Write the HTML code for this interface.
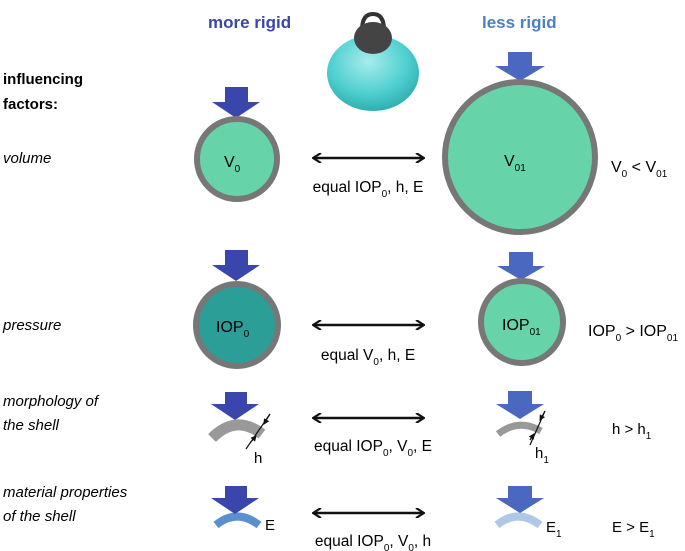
<!DOCTYPE html>
<html><head><meta charset="utf-8"><style>
body{margin:0;background:#fff}
svg{display:block;font-family:"Liberation Sans",Arial,sans-serif}
</style></head><body>
<svg width="685" height="551" viewBox="0 0 685 551" xmlns="http://www.w3.org/2000/svg">
<defs>
<radialGradient id="wg" cx="0.45" cy="0.35" r="0.7">
<stop offset="0" stop-color="#a8ecec"/><stop offset="0.6" stop-color="#4fcfcf"/><stop offset="1" stop-color="#2aa8aa"/>
</radialGradient>
<marker id="ah" markerWidth="10" markerHeight="10" refX="8" refY="5" orient="auto-start-reverse" markerUnits="userSpaceOnUse">
<path d="M1,0 L9,5 L1,10" fill="none" stroke="#111" stroke-width="2.2"/></marker>
<marker id="sa" markerWidth="6" markerHeight="6" refX="5" refY="3" orient="auto" markerUnits="userSpaceOnUse">
<path d="M0,0 L6,3 L0,6z" fill="#111"/></marker>
</defs>
<text x="208" y="28" font-size="17" font-weight="bold" fill="#3b46a8">more rigid</text>
<text x="482" y="28" font-size="17" font-weight="bold" fill="#4a80c8">less rigid</text>
<!-- weight -->
<ellipse cx="373" cy="73" rx="46" ry="38" fill="url(#wg)"/>
<path d="M362,30 Q362,14 373,14 Q384,14 384,30" fill="none" stroke="#333" stroke-width="4"/>
<ellipse cx="373" cy="38" rx="19" ry="16" fill="#444"/>

<g font-size="15" fill="#000">
<text x="3" y="84" font-weight="bold">influencing</text>
<text x="3" y="109" font-weight="bold">factors:</text>
<text x="3" y="163" font-style="italic">volume</text>
<text x="3" y="330" font-style="italic">pressure</text>
<text x="3" y="406" font-style="italic">morphology of</text>
<text x="3" y="430" font-style="italic">the shell</text>
<text x="3" y="497" font-style="italic">material properties</text>
<text x="3" y="521" font-style="italic">of the shell</text>
</g>

<!-- row 1 -->
<path d="M225,87 h23 v15 h12 l-24,16 l-24,-16 h13z" fill="#3b46ad"/>
<circle cx="237" cy="159" r="40" fill="#66d4a8" stroke="#777" stroke-width="6"/>
<text x="224" y="167" font-size="16">V<tspan font-size="10" dy="5">0</tspan></text>
<path d="M508,52 h24 v14 h13 l-25,15 l-25,-15 h13z" fill="#4a68c0"/>
<circle cx="520" cy="157" r="75" fill="#66d4a8" stroke="#777" stroke-width="6"/>
<text x="504" y="166" font-size="16">V<tspan font-size="10" dy="5">01</tspan></text>
<text x="611" y="172" font-size="16">V<tspan font-size="10" dy="5">0</tspan><tspan dy="-5"> &lt; V</tspan><tspan font-size="10" dy="5">01</tspan></text>
<line x1="314" y1="158" x2="423" y2="158" stroke="#111" stroke-width="2.5" marker-start="url(#ah)" marker-end="url(#ah)"/>
<text x="368" y="192" font-size="15.5" text-anchor="middle">equal IOP<tspan font-size="10" dy="5">0</tspan><tspan dy="-5">, h, E</tspan></text>

<!-- row 2 -->
<path d="M225,250 h23 v15 h12 l-24,16 l-24,-16 h13z" fill="#3b46ad"/>
<circle cx="237" cy="325" r="41" fill="#2b9e98" stroke="#777" stroke-width="6"/>
<text x="216" y="332" font-size="16">IOP<tspan font-size="10" dy="5">0</tspan></text>
<path d="M509,252 h24 v14 h12 l-24,14 l-24,-14 h12z" fill="#4a68c0"/>
<circle cx="522" cy="322" r="41" fill="#66d4a8" stroke="#777" stroke-width="6"/>
<text x="502" y="330" font-size="16">IOP<tspan font-size="10" dy="5">01</tspan></text>
<text x="588" y="336" font-size="16">IOP<tspan font-size="10" dy="5">0</tspan><tspan dy="-5"> &gt; IOP</tspan><tspan font-size="10" dy="5">01</tspan></text>
<line x1="314" y1="325" x2="423" y2="325" stroke="#111" stroke-width="2.5" marker-start="url(#ah)" marker-end="url(#ah)"/>
<text x="368" y="360" font-size="15.5" text-anchor="middle">equal V<tspan font-size="10" dy="5">0</tspan><tspan dy="-5">, h, E</tspan></text>

<!-- row 3 -->
<path d="M212,438 Q236,414 262,434" fill="none" stroke="#999" stroke-width="11"/>
<path d="M225,392 h22 v12 h12 l-24,16 l-24,-16 h14z" fill="#3b46ad"/>
<line x1="246" y1="449" x2="270" y2="414" stroke="#111" stroke-width="1.2"/>
<line x1="270" y1="414" x2="264" y2="424" stroke="#111" stroke-width="1.2" marker-end="url(#sa)"/>
<line x1="250" y1="443" x2="256" y2="436" stroke="#111" stroke-width="1.2" marker-end="url(#sa)"/>
<text x="254" y="463" font-size="15">h</text>
<path d="M498,434 Q519,418 541,431" fill="none" stroke="#999" stroke-width="7"/>
<path d="M508,391 h24 v13 h12 l-24,15 l-24,-15 h12z" fill="#4a68c0"/>
<line x1="530" y1="445" x2="545" y2="411" stroke="#111" stroke-width="1.2"/>
<line x1="545" y1="411" x2="540" y2="420" stroke="#111" stroke-width="1.2" marker-end="url(#sa)"/>
<line x1="530" y1="440" x2="534" y2="434" stroke="#111" stroke-width="1.2" marker-end="url(#sa)"/>
<text x="535" y="458" font-size="15">h<tspan font-size="10" dy="5">1</tspan></text>
<text x="612" y="434" font-size="15">h &gt; h<tspan font-size="10" dy="5">1</tspan></text>
<line x1="314" y1="418" x2="423" y2="418" stroke="#111" stroke-width="2.5" marker-start="url(#ah)" marker-end="url(#ah)"/>
<text x="373" y="451" font-size="15.5" text-anchor="middle">equal IOP<tspan font-size="10" dy="5">0</tspan><tspan dy="-5">, V</tspan><tspan font-size="10" dy="5">0</tspan><tspan dy="-5">, E</tspan></text>

<!-- row 4 -->
<path d="M216,525 Q237,508 259,525" fill="none" stroke="#5b90d0" stroke-width="8"/>
<path d="M225,486 h22 v12 h12 l-24,16 l-24,-16 h14z" fill="#3b46ad"/>
<text x="265" y="530" font-size="15">E</text>
<path d="M497,525 Q518,508 540,525" fill="none" stroke="#b0c8e8" stroke-width="8"/>
<path d="M508,486 h24 v12 h12 l-24,15 l-24,-15 h12z" fill="#4a68c0"/>
<text x="546" y="532" font-size="15">E<tspan font-size="10" dy="5">1</tspan></text>
<text x="612" y="532" font-size="15">E &gt; E<tspan font-size="10" dy="5">1</tspan></text>
<line x1="314" y1="513" x2="423" y2="513" stroke="#111" stroke-width="2.5" marker-start="url(#ah)" marker-end="url(#ah)"/>
<text x="373" y="546" font-size="15.5" text-anchor="middle">equal IOP<tspan font-size="10" dy="5">0</tspan><tspan dy="-5">, V</tspan><tspan font-size="10" dy="5">0</tspan><tspan dy="-5">, h</tspan></text>
</svg>
</body></html>
